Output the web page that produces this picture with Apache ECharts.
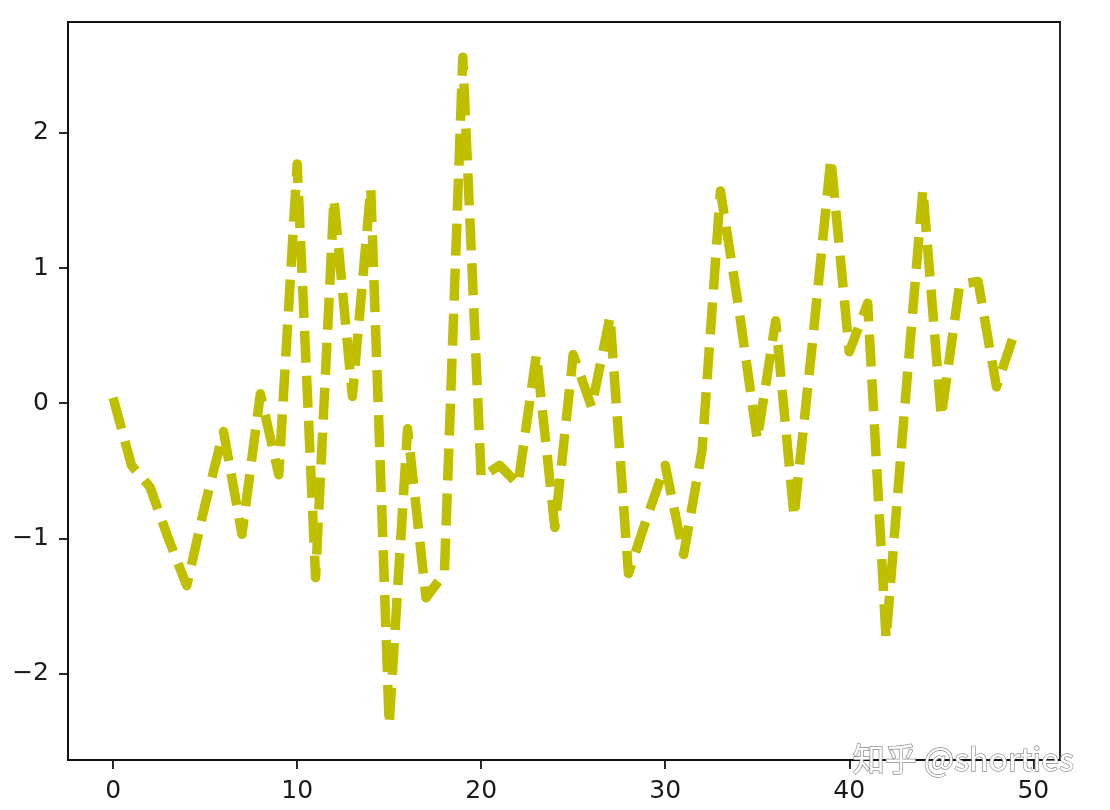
<!DOCTYPE html>
<html>
<head>
<meta charset="utf-8">
<script src="https://cdn.jsdelivr.net/npm/echarts@6/dist/echarts.min.js"></script>
<style>
html,body{margin:0;padding:0;background:#fff;}
#chart{width:1110px;height:810px;}
</style>
</head>
<body>
<div id="chart"></div>
<script>
var yValues = [0.04, -0.46, -0.62, -1.0, -1.35, -0.75, -0.21, -0.97, 0.07, -0.53,
  1.77, -1.29, 1.51, 0.05, 1.59, -2.38, -0.19, -1.44, -1.26, 2.56,
  -0.55, -0.46, -0.6, 0.36, -0.92, 0.36, -0.03, 0.64, -1.26, -0.85,
  -0.46, -1.12, -0.35, 1.57, 0.7, -0.27, 0.61, -0.84, 0.45, 1.81,
  0.38, 0.74, -1.74, -0.05, 1.58, -0.1, 0.88, 0.9, 0.12, 0.53];
var xTicks = [0, 10, 20, 30, 40, 50];
var yTicks = [-2, -1, 0, 1, 2];
var watermark = '知乎 @shorties';

var seriesData = yValues.map(function (v, i) { return [i, v]; });
function fmt(v) { return String(v).replace('-', '\u2212'); }

var chart = echarts.init(document.getElementById('chart'), null, {renderer: 'canvas'});
chart.setOption({
  animation: false,
  backgroundColor: '#fff',
  grid: {
    left: 68, right: 50, top: 22, bottom: 50,
    show: true, borderColor: '#111', borderWidth: 1.8, backgroundColor: '#fff'
  },
  xAxis: {
    type: 'value', min: -2.45, max: 51.45,
    splitLine: {show: false},
    axisLine: {show: true, onZero: false, lineStyle: {color: '#111', width: 1.8}},
    axisTick: {show: true, length: 9, lineStyle: {color: '#111', width: 1.8}, customValues: xTicks},
    axisLabel: {show: true, customValues: xTicks, formatter: fmt, margin: 19,
      fontFamily: 'DejaVu Sans', fontSize: 25, color: '#1a1a1a'}
  },
  yAxis: {
    type: 'value', min: -2.64, max: 2.82,
    splitLine: {show: false},
    axisLine: {show: true, onZero: false, lineStyle: {color: '#111', width: 1.8}},
    axisTick: {show: true, length: 9, lineStyle: {color: '#111', width: 1.8}, customValues: yTicks},
    axisLabel: {show: true, customValues: yTicks, formatter: fmt, margin: 19,
      fontFamily: 'DejaVu Sans', fontSize: 25, color: '#1a1a1a'}
  },
  series: [{
    type: 'line',
    data: seriesData,
    showSymbol: false,
    symbol: 'none',
    lineStyle: {color: '#bfbf00', width: 9.5, type: [32, 13], cap: 'butt', join: 'round'}
  }],
  graphic: [{
    type: 'text',
    left: 852, top: 742,
    z: 100,
    style: {
      text: watermark,
      font: '32px "Noto Sans CJK SC", "DejaVu Sans", sans-serif',
      fill: '#ffffff',
      stroke: '#8a8a8a',
      lineWidth: 1.4
    }
  }]
});
</script>
</body>
</html>
